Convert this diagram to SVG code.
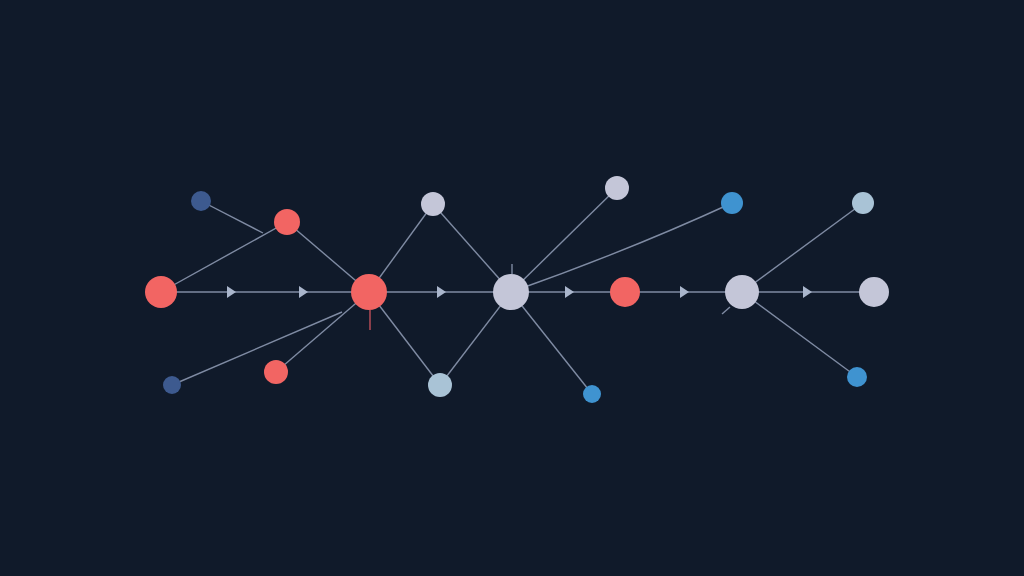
<svg xmlns="http://www.w3.org/2000/svg" width="1024" height="576" viewBox="0 0 1024 576">
<defs>
<style>
.e{stroke:#7f8ba3;stroke-width:1.4;fill:none}
.a{fill:#aab6cc}
.red{fill:#f26563}
.gray{fill:#c4c6d8}
.lb{fill:#a9c3d6}
.bl{fill:#3f93d0}
.db{fill:#3d5a8f}
</style>
</defs>
<rect width="1024" height="576" fill="#101a2a"/>
<g id="connectors">
<line class="e" x1="201" y1="201" x2="263" y2="233"/>
<line class="e" x1="161" y1="292" x2="287" y2="222"/>
<line class="e" x1="287" y1="222" x2="369" y2="292"/>
<line class="e" x1="161" y1="292" x2="369" y2="292"/>
<line class="e" x1="172" y1="385" x2="342" y2="312"/>
<line class="e" x1="276" y1="372" x2="369" y2="292"/>
<line x1="370" y1="310" x2="370" y2="330" stroke="#c0505a" stroke-width="1.4"/>
<line class="e" x1="369" y1="292" x2="433" y2="204"/>
<line class="e" x1="369" y1="292" x2="440" y2="385"/>
<line class="e" x1="433" y1="204" x2="511" y2="292"/>
<line class="e" x1="440" y1="385" x2="511" y2="292"/>
<line class="e" x1="369" y1="292" x2="511" y2="292"/>
<line class="e" x1="512" y1="264" x2="512" y2="274"/>
<line class="e" x1="511" y1="292" x2="617" y2="188"/>
<path class="e" d="M511 292 Q 630 250 732 203"/>
<line class="e" x1="511" y1="292" x2="592" y2="394"/>
<line class="e" x1="511" y1="292" x2="742" y2="292"/>
<line class="e" x1="742" y1="292" x2="863" y2="203"/>
<line class="e" x1="742" y1="292" x2="857" y2="377"/>
<line class="e" x1="742" y1="292" x2="874" y2="292"/>
<line class="e" x1="722" y1="314" x2="730" y2="307"/>
<path class="a" d="M227 286 L236 292 L227 298 Z"/>
<path class="a" d="M299 286 L308 292 L299 298 Z"/>
<path class="a" d="M437 286 L446 292 L437 298 Z"/>
<path class="a" d="M565 286 L574 292 L565 298 Z"/>
<path class="a" d="M680 286 L689 292 L680 298 Z"/>
<path class="a" d="M803 286 L812 292 L803 298 Z"/>
</g>
<g id="n1"><circle class="db" cx="201" cy="201" r="10"/></g>
<g id="n2"><circle class="red" cx="287" cy="222" r="13"/></g>
<g id="n3"><circle class="red" cx="161" cy="292" r="16"/></g>
<g id="n4"><circle class="red" cx="369" cy="292" r="18"/></g>
<g id="n5"><circle class="db" cx="172" cy="385" r="9"/></g>
<g id="n6"><circle class="red" cx="276" cy="372" r="12"/></g>
<g id="n7"><circle class="gray" cx="433" cy="204" r="12"/></g>
<g id="n8"><circle class="lb" cx="440" cy="385" r="12"/></g>
<g id="n9"><circle class="gray" cx="511" cy="292" r="18"/></g>
<g id="n10"><circle class="gray" cx="617" cy="188" r="12"/></g>
<g id="n11"><circle class="bl" cx="732" cy="203" r="11"/></g>
<g id="n12"><circle class="red" cx="625" cy="292" r="15"/></g>
<g id="n13"><circle class="gray" cx="742" cy="292" r="17"/></g>
<g id="n14"><circle class="lb" cx="863" cy="203" r="11"/></g>
<g id="n15"><circle class="gray" cx="874" cy="292" r="15"/></g>
<g id="n16"><circle class="bl" cx="592" cy="394" r="9"/></g>
<g id="n17"><circle class="bl" cx="857" cy="377" r="10"/></g>
</svg>
